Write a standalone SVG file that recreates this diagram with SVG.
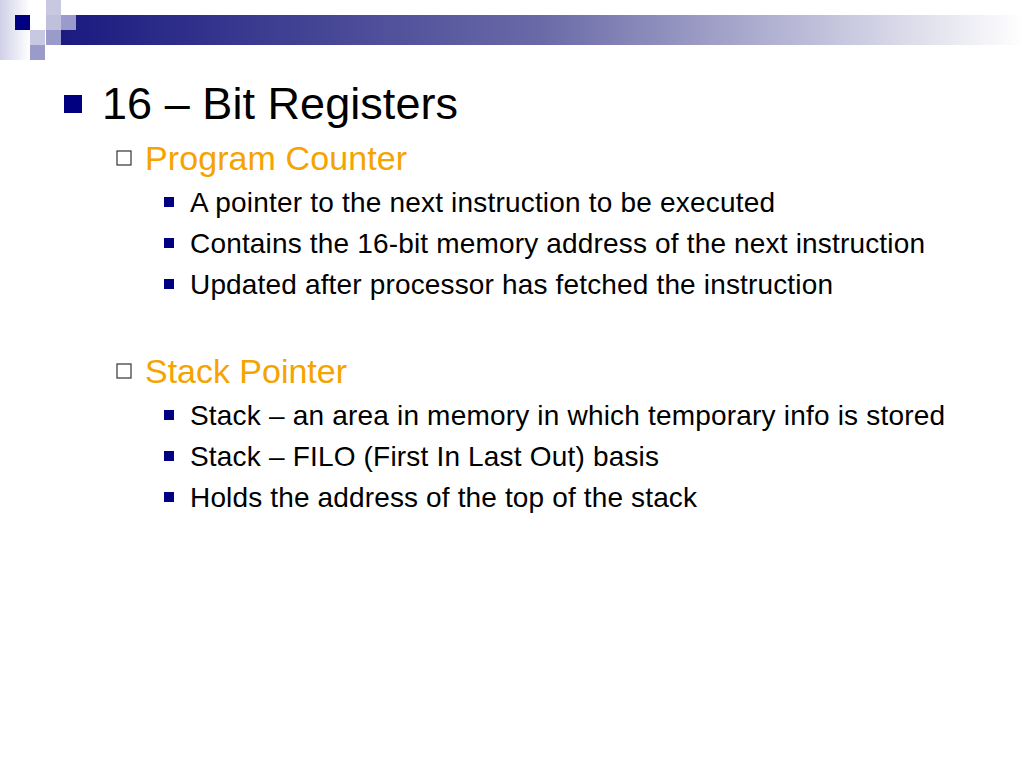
<svg xmlns="http://www.w3.org/2000/svg" width="1024" height="768" viewBox="0 0 1024 768">
<defs>
<linearGradient id="bar" x1="0" x2="1" y1="0" y2="0"><stop offset="0" stop-color="#1a1a80"/><stop offset="0.5" stop-color="#6a6aa8"/><stop offset="1" stop-color="#ffffff"/></linearGradient>
<linearGradient id="side" x1="0" x2="1" y1="0" y2="0"><stop offset="0" stop-color="#d0d0e8"/><stop offset="1" stop-color="#ffffff"/></linearGradient>
</defs>
<style>
.t{font-family:"Liberation Sans",Arial,sans-serif;}
.h1{font-size:45px;fill:#000}
.h2{font-size:34px;fill:#f5a300}
.h3{font-size:28px;fill:#000}
</style>
<rect width="1024" height="768" fill="#fff"/>
<g id="decor">
<rect x="0" y="0" width="30" height="60" fill="url(#side)"/>
<rect x="61" y="15" width="963" height="30" fill="url(#bar)"/>
<rect x="15" y="15" width="15" height="15" fill="#000080"/>
<rect x="46" y="0" width="15" height="15" fill="#c8c8e0"/>
<rect x="46" y="15" width="15" height="15" fill="#c0c0dc"/>
<rect x="61" y="15" width="15" height="15" fill="#9a9acb"/>
<rect x="30" y="30" width="15" height="15" fill="#c8c8e0"/>
<rect x="46" y="30" width="15" height="15" fill="#9a9acb"/>
<rect x="30" y="45" width="15" height="15" fill="#9a9acb"/>
</g>
<g id="content" class="t">
<rect x="64" y="95" width="18" height="18" fill="#000080"/>
<text x="102" y="119" class="h1" textLength="356">16 – Bit Registers</text>
<rect x="117" y="151" width="14" height="14" fill="none" stroke="#333" stroke-width="1.2"/>
<text x="145" y="170" class="h2" textLength="262">Program Counter</text>
<rect x="164" y="197" width="10" height="10" fill="#000080"/>
<text x="190" y="212" class="h3" textLength="585">A pointer to the next instruction to be executed</text>
<rect x="164" y="238" width="10" height="10" fill="#000080"/>
<text x="190" y="253" class="h3" textLength="735">Contains the 16-bit memory address of the next instruction</text>
<rect x="164" y="279" width="10" height="10" fill="#000080"/>
<text x="190" y="294" class="h3" textLength="643">Updated after processor has fetched the instruction</text>
<rect x="117" y="364" width="14" height="14" fill="none" stroke="#333" stroke-width="1.2"/>
<text x="145" y="383" class="h2" textLength="202">Stack Pointer</text>
<rect x="164" y="410" width="10" height="10" fill="#000080"/>
<text x="190" y="425" class="h3" textLength="755">Stack – an area in memory in which temporary info is stored</text>
<rect x="164" y="451" width="10" height="10" fill="#000080"/>
<text x="190" y="466" class="h3" textLength="469">Stack – FILO (First In Last Out) basis</text>
<rect x="164" y="492" width="10" height="10" fill="#000080"/>
<text x="190" y="507" class="h3" textLength="507">Holds the address of the top of the stack</text>
</g>
</svg>
